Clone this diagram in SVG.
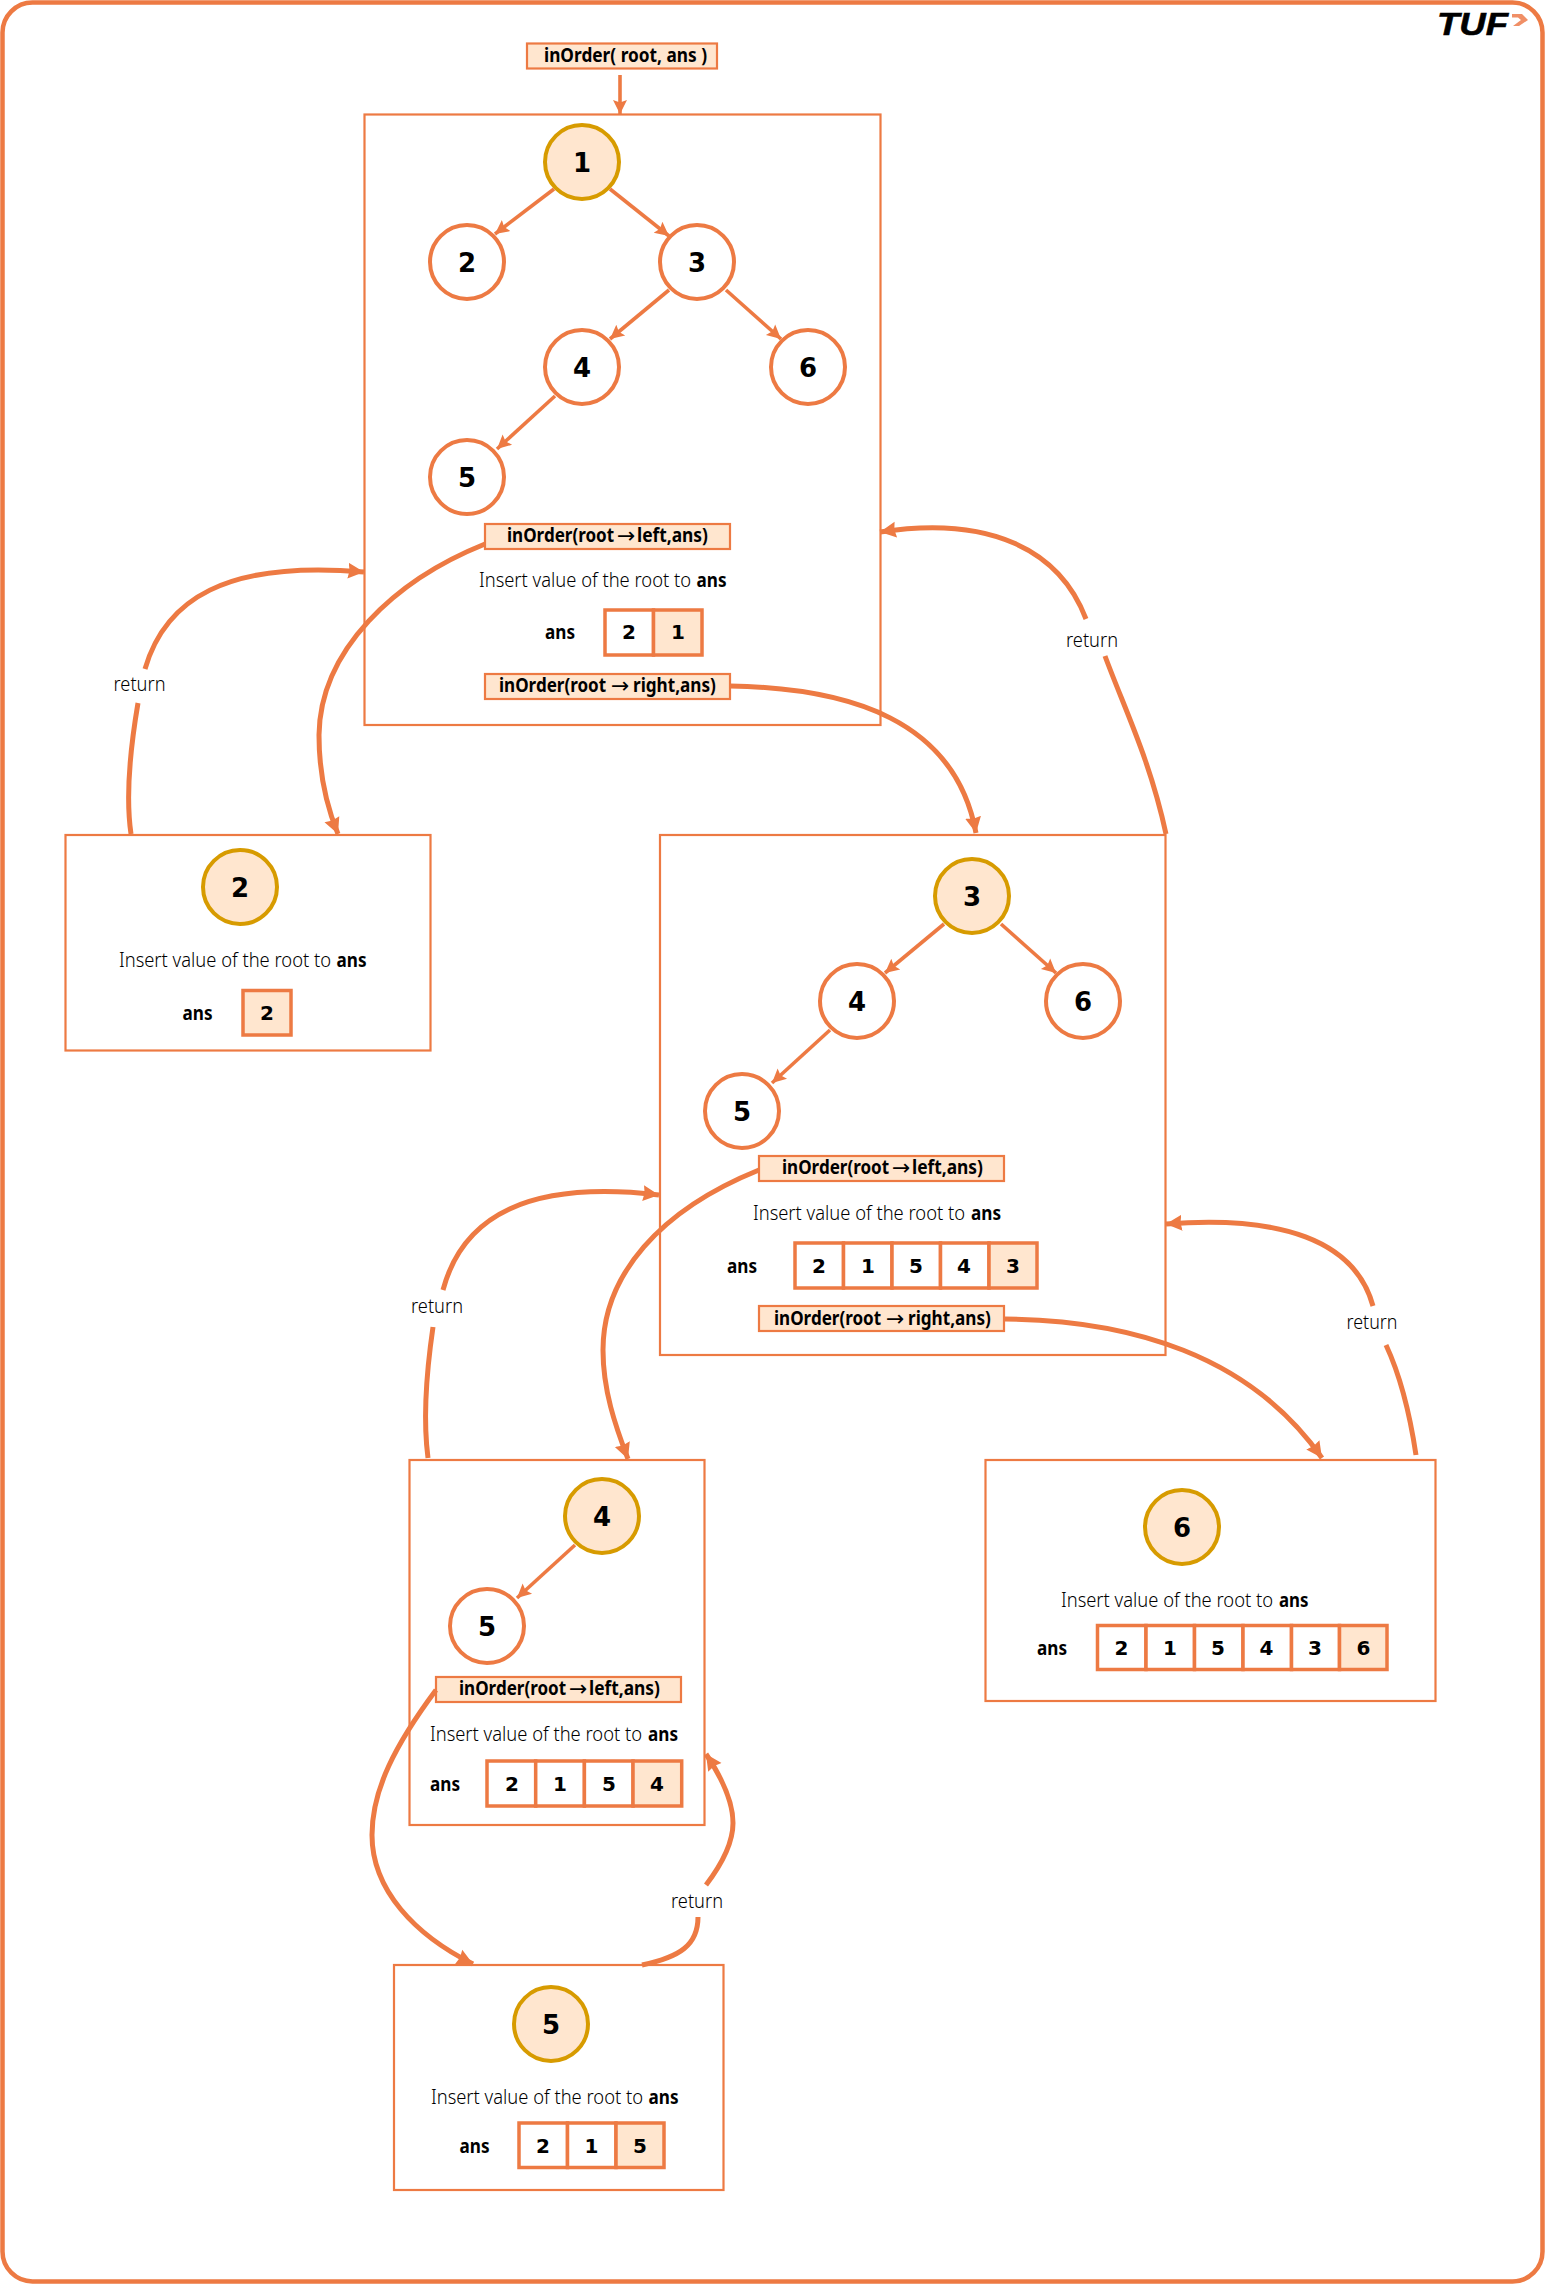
<svg xmlns="http://www.w3.org/2000/svg" width="1545" height="2284" viewBox="0 0 1545 2284">
<style>
.frame{fill:#fff;stroke:#ED7A43;stroke-width:2.2}
.tag{fill:#FFE6CF;stroke:#ED7A43;stroke-width:2.2}
.c{fill:#fff;stroke:#ED7A43;stroke-width:4}
.root{fill:#FFE6CF;stroke:#D79B00;stroke-width:4}
.cell{fill:#fff;stroke:#ED7A43;stroke-width:3.5}
.hot{fill:#FFE6CF;stroke:#ED7A43;stroke-width:3.5}
.n{font:bold 26px "DejaVu Sans",sans-serif;text-anchor:middle;fill:#000}
.d{font:bold 20px "DejaVu Sans",sans-serif;text-anchor:middle;fill:#000}
.t{font:bold 20px "Noto Sans",sans-serif;fill:#000}
.ar{font:normal 22px "DejaVu Sans",sans-serif;fill:#000}
.i{font:300 20px "Noto Sans",sans-serif;fill:#000}
.ib{font:bold 20px "Noto Sans",sans-serif;fill:#000}
.a{font:bold 20px "Noto Sans",sans-serif;fill:#000}
.r{font:300 20px "Noto Sans",sans-serif;fill:#000}
.e{fill:none;stroke:#ED7A43;stroke-width:3.6;marker-end:url(#s)}
.w{fill:none;stroke:#ED7A43;stroke-width:5;marker-end:url(#b)}
.wn{fill:none;stroke:#ED7A43;stroke-width:5}
</style>
<defs>
<marker id="s" markerUnits="userSpaceOnUse" markerWidth="16" markerHeight="16" refX="14" refY="8" orient="auto"><path d="M0,1L14,8L0,15L2.500,8Z" fill="#ED7A43"/></marker>
<marker id="b" markerUnits="userSpaceOnUse" markerWidth="18" markerHeight="18" refX="16" refY="9" orient="auto"><path d="M0,1L16,9L0,17L1.500,9Z" fill="#ED7A43"/></marker>
</defs>
<rect id="page" x="2.500" y="2.500" width="1540" height="2279" rx="30" fill="#fff" stroke="#ED7A43" stroke-width="4.500"/>
<g id="logo">
<text x="1437" y="35" font-family="Liberation Sans,sans-serif" font-weight="bold" font-style="italic" font-size="32" textLength="71" lengthAdjust="spacingAndGlyphs" fill="#000" stroke="#000" stroke-width="0.600">TUF</text>
<path d="M1512,14L1522,14L1528,20L1519,26L1513,26L1521,20L1518,17.500L1512,17.500Z" fill="#F08F66"/>
</g>
<g id="start"><rect class="tag" x="527" y="43.500" width="190" height="25"/><text class="t" x="544" y="62" textLength="163" lengthAdjust="spacingAndGlyphs">inOrder( root, ans )</text></g>

<g id="box1">
<rect class="frame" x="364.500" y="114.500" width="516" height="610.500"/>
<circle class="root" cx="582" cy="162" r="37"/><text class="n" x="582" y="172">1</text>
<circle class="c" cx="467" cy="262" r="37"/><text class="n" x="467" y="272">2</text>
<circle class="c" cx="697" cy="262" r="37"/><text class="n" x="697" y="272">3</text>
<circle class="c" cx="582" cy="367" r="37"/><text class="n" x="582" y="377">4</text>
<circle class="c" cx="808" cy="367" r="37"/><text class="n" x="808" y="377">6</text>
<circle class="c" cx="467" cy="477" r="37"/><text class="n" x="467" y="487">5</text>
<rect class="tag" x="485" y="524" width="245" height="25"/>
<text class="t" transform="translate(507,542) scale(.85,1)" textLength="126" lengthAdjust="spacingAndGlyphs">inOrder(root</text><text class="ar" x="617" y="543">→</text><text class="t" transform="translate(637,542) scale(.86,1)" textLength="82.500" lengthAdjust="spacingAndGlyphs">left,ans)</text>
<text class="i" transform="translate(479,587) scale(.9,1)" textLength="235.600" lengthAdjust="spacingAndGlyphs">Insert value of the root to</text><text class="ib" x="696.500" y="587" textLength="30" lengthAdjust="spacingAndGlyphs">ans</text>
<text class="a" x="545" y="639" textLength="30" lengthAdjust="spacingAndGlyphs">ans</text>
<rect class="cell" x="605" y="610" width="48.500" height="45"/><rect class="hot" x="653.500" y="610" width="48.500" height="45"/>
<text class="d" x="629" y="639">2</text><text class="d" x="678" y="639">1</text>
<rect class="tag" x="485" y="674" width="245" height="25"/>
<text class="t" transform="translate(499,692) scale(.85,1)" textLength="126" lengthAdjust="spacingAndGlyphs">inOrder(root</text><text class="ar" x="611" y="693">→</text><text class="t" transform="translate(633,692) scale(.855,1)" textLength="97" lengthAdjust="spacingAndGlyphs">right,ans)</text>
</g>

<g id="box2">
<rect class="frame" x="65.500" y="835" width="365" height="215.500"/>
<circle class="root" cx="240" cy="887" r="37"/><text class="n" x="240" y="897">2</text>
<text class="i" transform="translate(119,967) scale(.9,1)" textLength="235.600" lengthAdjust="spacingAndGlyphs">Insert value of the root to</text><text class="ib" x="336.500" y="967" textLength="30" lengthAdjust="spacingAndGlyphs">ans</text>
<text class="a" x="182.500" y="1020" textLength="30" lengthAdjust="spacingAndGlyphs">ans</text>
<rect class="hot" x="243" y="990.500" width="48" height="44.500"/><text class="d" x="267" y="1020">2</text>
</g>

<g id="box3">
<rect class="frame" x="660" y="835" width="505.500" height="520"/>
<circle class="root" cx="972" cy="896" r="37"/><text class="n" x="972" y="906">3</text>
<circle class="c" cx="857" cy="1001" r="37"/><text class="n" x="857" y="1011">4</text>
<circle class="c" cx="1083" cy="1001" r="37"/><text class="n" x="1083" y="1011">6</text>
<circle class="c" cx="742" cy="1111" r="37"/><text class="n" x="742" y="1121">5</text>
<rect class="tag" x="759" y="1156" width="245" height="25"/>
<text class="t" transform="translate(782,1174) scale(.85,1)" textLength="126" lengthAdjust="spacingAndGlyphs">inOrder(root</text><text class="ar" x="892" y="1175">→</text><text class="t" transform="translate(912,1174) scale(.86,1)" textLength="82.500" lengthAdjust="spacingAndGlyphs">left,ans)</text>
<text class="i" transform="translate(753,1220) scale(.9,1)" textLength="235.600" lengthAdjust="spacingAndGlyphs">Insert value of the root to</text><text class="ib" x="971" y="1220" textLength="30" lengthAdjust="spacingAndGlyphs">ans</text>
<text class="a" x="727" y="1273" textLength="30" lengthAdjust="spacingAndGlyphs">ans</text>
<rect class="cell" x="795" y="1243" width="48.500" height="45"/><rect class="cell" x="843.500" y="1243" width="48.500" height="45"/><rect class="cell" x="892" y="1243" width="48.500" height="45"/><rect class="cell" x="940.500" y="1243" width="48.500" height="45"/><rect class="hot" x="989" y="1243" width="48" height="45"/>
<text class="d" x="819" y="1272.500">2</text><text class="d" x="868" y="1272.500">1</text><text class="d" x="916" y="1272.500">5</text><text class="d" x="964" y="1272.500">4</text><text class="d" x="1013" y="1272.500">3</text>
<rect class="tag" x="759" y="1306" width="245" height="25"/>
<text class="t" transform="translate(774,1325) scale(.85,1)" textLength="126" lengthAdjust="spacingAndGlyphs">inOrder(root</text><text class="ar" x="886" y="1326">→</text><text class="t" transform="translate(908,1325) scale(.855,1)" textLength="97" lengthAdjust="spacingAndGlyphs">right,ans)</text>
</g>

<g id="box4">
<rect class="frame" x="409.500" y="1460" width="295" height="365"/>
<circle class="root" cx="602" cy="1516" r="37"/><text class="n" x="602" y="1526">4</text>
<circle class="c" cx="487" cy="1626" r="37"/><text class="n" x="487" y="1636">5</text>
<rect class="tag" x="436" y="1677" width="245" height="25"/>
<text class="t" transform="translate(459,1695) scale(.85,1)" textLength="126" lengthAdjust="spacingAndGlyphs">inOrder(root</text><text class="ar" x="569" y="1696">→</text><text class="t" transform="translate(589,1695) scale(.86,1)" textLength="82.500" lengthAdjust="spacingAndGlyphs">left,ans)</text>
<text class="i" transform="translate(430,1741) scale(.9,1)" textLength="235.600" lengthAdjust="spacingAndGlyphs">Insert value of the root to</text><text class="ib" x="648" y="1741" textLength="30" lengthAdjust="spacingAndGlyphs">ans</text>
<text class="a" x="430" y="1791" textLength="30" lengthAdjust="spacingAndGlyphs">ans</text>
<rect class="cell" x="487" y="1761" width="48.700" height="45"/><rect class="cell" x="535.700" y="1761" width="48.700" height="45"/><rect class="cell" x="584.400" y="1761" width="48.700" height="45"/><rect class="hot" x="633" y="1761" width="48.700" height="45"/>
<text class="d" x="512" y="1790.500">2</text><text class="d" x="560" y="1790.500">1</text><text class="d" x="609" y="1790.500">5</text><text class="d" x="657" y="1790.500">4</text>
</g>

<g id="box5">
<rect class="frame" x="394" y="1965" width="329.500" height="225"/>
<circle class="root" cx="551" cy="2024" r="37"/><text class="n" x="551" y="2034">5</text>
<text class="i" transform="translate(431,2104) scale(.9,1)" textLength="235.600" lengthAdjust="spacingAndGlyphs">Insert value of the root to</text><text class="ib" x="648.500" y="2104" textLength="30" lengthAdjust="spacingAndGlyphs">ans</text>
<text class="a" x="459.500" y="2153" textLength="30" lengthAdjust="spacingAndGlyphs">ans</text>
<rect class="cell" x="519" y="2123" width="48.500" height="44.500"/><rect class="cell" x="567.500" y="2123" width="48.500" height="44.500"/><rect class="hot" x="616" y="2123" width="48" height="44.500"/>
<text class="d" x="543" y="2153">2</text><text class="d" x="591.500" y="2153">1</text><text class="d" x="640" y="2153">5</text>
</g>

<g id="box6">
<rect class="frame" x="985.500" y="1460" width="450" height="241"/>
<circle class="root" cx="1182" cy="1527" r="37"/><text class="n" x="1182" y="1537">6</text>
<text class="i" transform="translate(1061,1607) scale(.9,1)" textLength="235.600" lengthAdjust="spacingAndGlyphs">Insert value of the root to</text><text class="ib" x="1279" y="1607" textLength="29.500" lengthAdjust="spacingAndGlyphs">ans</text>
<text class="a" x="1037" y="1655" textLength="30" lengthAdjust="spacingAndGlyphs">ans</text>
<rect class="cell" x="1097.500" y="1625.500" width="48.500" height="44"/><rect class="cell" x="1146" y="1625.500" width="48.500" height="44"/><rect class="cell" x="1194.500" y="1625.500" width="48.500" height="44"/><rect class="cell" x="1243" y="1625.500" width="48.500" height="44"/><rect class="cell" x="1291.500" y="1625.500" width="48" height="44"/><rect class="hot" x="1339.500" y="1625.500" width="47.500" height="44"/>
<text class="d" x="1121.500" y="1654.500">2</text><text class="d" x="1170" y="1654.500">1</text><text class="d" x="1218" y="1654.500">5</text><text class="d" x="1266.500" y="1654.500">4</text><text class="d" x="1315" y="1654.500">3</text><text class="d" x="1363.500" y="1654.500">6</text>
</g>

<g id="connectors">
<path class="e" d="M620,75L620,114"/>
<path class="e" d="M554,189L495,234"/><path class="e" d="M610,189L669,236"/><path class="e" d="M669,290L610,339"/><path class="e" d="M726,290L781,339"/><path class="e" d="M555,396L497,449"/>
<path class="e" d="M944,924L885,973"/><path class="e" d="M1001,924L1056,973"/><path class="e" d="M830,1030L772,1083"/>
<path class="e" d="M575,1545L517,1598"/>
<path class="w" d="M485,544C395,580 320,650 319,735C319,770 326,805 338,834"/>
<path class="wn" d="M131,834C126,800 130,750 138,703"/>
<path class="w" d="M145,669C165,600 225,560 364,572"/>
<path class="w" d="M730,686C850,688 955,720 976,833"/>
<path class="wn" d="M1166,834C1150,760 1125,710 1105,656"/>
<path class="w" d="M1086,619C1060,550 990,515 880,532"/>
<path class="w" d="M759,1170C660,1210 603,1275 603,1350C603,1390 615,1425 628,1459"/>
<path class="wn" d="M428,1458C423,1420 426,1375 433,1327"/>
<path class="w" d="M443,1290C463,1215 530,1180 659,1195"/>
<path class="w" d="M1005,1319C1130,1320 1250,1355 1322,1458"/>
<path class="wn" d="M1416,1455C1410,1415 1400,1375 1386,1345"/>
<path class="w" d="M1373,1306C1355,1240 1280,1215 1166,1224"/>
<path class="w" d="M436,1690C395,1745 372,1790 372,1835C372,1890 415,1935 473,1964"/>
<path class="wn" d="M642,1965C680,1957 698,1945 698,1917"/>
<path class="w" d="M706,1885C725,1860 733,1840 733,1823C733,1800 720,1775 706,1754"/>
</g>
<g id="returns">
<text class="r" x="113.500" y="691" textLength="52" lengthAdjust="spacingAndGlyphs">return</text>
<text class="r" x="1066" y="647" textLength="52" lengthAdjust="spacingAndGlyphs">return</text>
<text class="r" x="411" y="1313" textLength="52" lengthAdjust="spacingAndGlyphs">return</text>
<text class="r" x="1346.500" y="1329" textLength="51" lengthAdjust="spacingAndGlyphs">return</text>
<text class="r" x="671" y="1908" textLength="52" lengthAdjust="spacingAndGlyphs">return</text>
</g>
</svg>
